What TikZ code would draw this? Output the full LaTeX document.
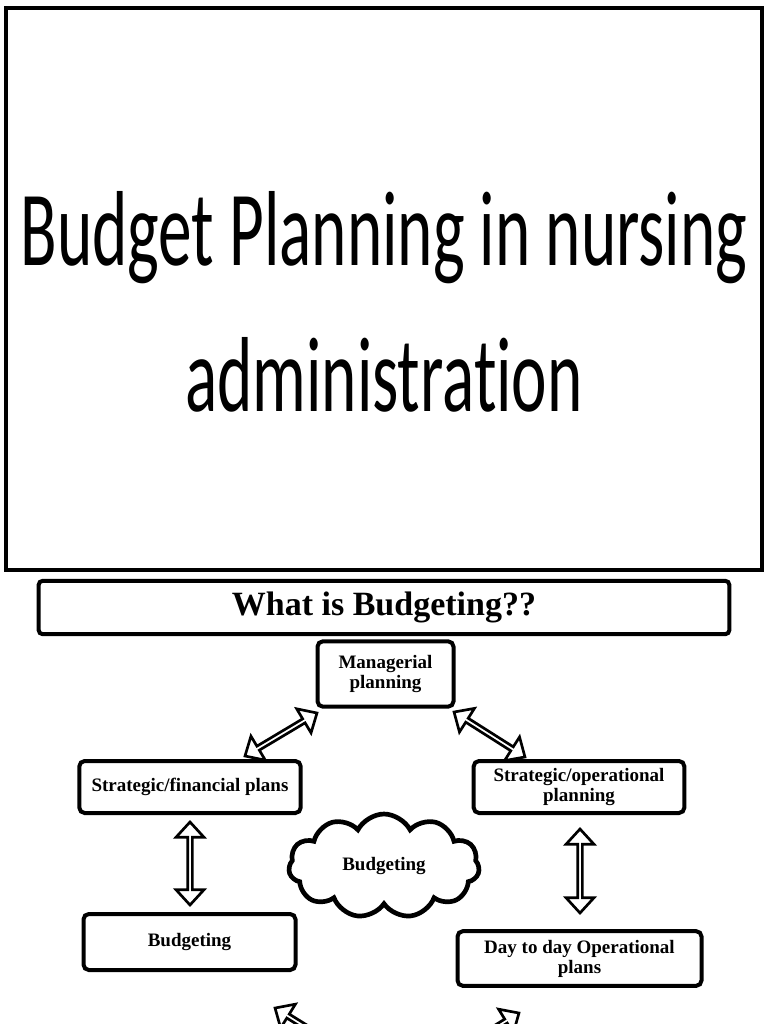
\documentclass[tikz,border=0pt]{standalone}
\usepackage{fontspec}
\setmainfont{Liberation Serif}
\newfontfamily\titlefont[Ligatures=NoCommon]{Carlito}
\usetikzlibrary{calc,shapes.symbols,shapes.arrows}

\tikzset{
  box/.style={draw, line width=3pt, rounded corners=4pt, align=center,
    inner sep=2pt, font=\bfseries\fontsize{14.25}{15}\selectfont},
  hollow/.style={draw, line width=2pt, shape=double arrow, inner sep=0pt,
    double arrow head extend=5pt, double arrow tip angle=85,
    minimum width=21pt},
}

% hollow two-headed arrow between two named points
\newcommand{\hollowarrow}[3]{%
  \path let \p1=(#2), \p2=(#3),
    \n1={atan2(\y2-\y1,\x2-\x1)}, \n2={veclen(\x2-\x1,\y2-\y1)} in
    node[hollow, rotate=\n1, minimum height=\n2] (#1) at ($(#2)!0.5!(#3)$) {};}

\begin{document}
\begin{tikzpicture}[x=0.75pt,y=-0.75pt]
    \clip (0,0) rectangle (768,1024);
    \fill[white] (0,0) rectangle (768,1024);

    % Title slide
    \draw[line width=3.5pt] (6,8) rectangle (762,570);
    \node (title) at (384,302) [align=center,
      font=\titlefont\fontsize{80}{110}\selectfont]
      {\scalebox{0.63}[1]{Budget Planning in nursing}\\
       \scalebox{0.63}[1]{administration}};

    % Heading
    \node (head) at (384,607.5) [box, rounded corners=3pt, minimum width=518pt,
      minimum height=40pt, font=\bfseries\fontsize{25.5}{27}\selectfont]
      {What is Budgeting??};

    % The boxes
    \node (mgr)  at (385.5,674) [box, minimum width=102pt, minimum height=49pt]
      {Managerial\\planning};
    \node (fin)  at (190,787)   [box, minimum width=166pt, minimum height=39pt]
      {Strategic/financial plans};
    \node (ops)  at (579,787)   [box, minimum width=158pt, minimum height=39pt]
      {Strategic/operational\\planning};
    \node (bud)  at (189.5,942) [box, minimum width=159pt, minimum height=42pt]
      {Budgeting};
    \node (day)  at (579.5,958.5) [box, minimum width=183pt, minimum height=41pt]
      {Day to day Operational\\plans};

    % The cloud in the middle
    \node (cloud) at (384,866) [draw, line width=3.5pt, shape=cloud,
      cloud puffs=11, cloud puff arc=125, cloud ignores aspect,
      minimum width=143pt, minimum height=78pt,
      font=\bfseries\fontsize{14.25}{15}\selectfont]
      {Budgeting};

    % Arrow end points
    \coordinate (mgr sw)  at (317,713);
    \coordinate (fin n)   at (245,756);
    \coordinate (mgr se)  at (454,712);
    \coordinate (ops n)   at (525,757);
    \coordinate (fin s)   at (190,822);
    \coordinate (bud n)   at (190,905);
    \coordinate (ops s)   at (580,829);
    \coordinate (day n)   at (580,913);
    \coordinate (bud se)  at (275,1008);
    \coordinate (low l)   at (346,1052);
    \coordinate (day sw)  at (519,1013);
    \coordinate (low r)   at (448,1057);

    % And the arrows
    \hollowarrow{a1}{mgr sw}{fin n}
    \hollowarrow{a2}{mgr se}{ops n}
    \hollowarrow{a3}{fin s}{bud n}
    \hollowarrow{a4}{ops s}{day n}
    \hollowarrow{a5}{bud se}{low l}
    \hollowarrow{a6}{day sw}{low r}
\end{tikzpicture}
\end{document}
